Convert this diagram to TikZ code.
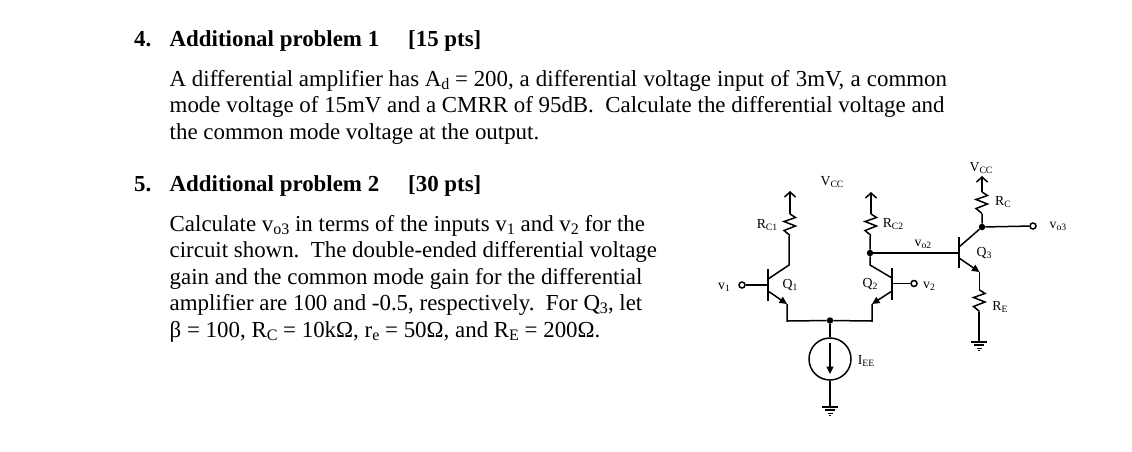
\documentclass[tikz,border=0pt]{standalone}
\usepackage{fontspec}
\setmainfont{Liberation Serif}
\usetikzlibrary{arrows.meta}
\newcommand{\smallsub}[1]{\raisebox{-0.16em}{\fontsize{0.7em}{1em}\selectfont #1}}
\newcommand{\resz}[2]{\draw[wire] (#1,#2) -- ++(5.5,3.5) -- ++(-11.5,4) -- ++(11.5,4.5) -- ++(-11.5,4.5) -- ++(6,5);}
\newcommand{\gnd}[2]{\draw[wire,line width=1.2pt] (#1-8,#2) -- (#1+8,#2); \draw[wire,line width=1.1pt] (#1-5,#2+3) -- (#1+5,#2+3); \draw[wire,line width=1pt] (#1-2.5,#2+6) -- (#1+2.5,#2+6); \draw[wire,line width=.8pt] (#1-.8,#2+8.5) -- (#1+.8,#2+8.5);}
\tikzset{
  x=1pt,y=-1pt,
  txt/.style={anchor=base west,inner sep=0pt,font=\fontsize{22.9}{26}\selectfont},
  head/.style={txt,font=\fontsize{22.9}{26}\selectfont\bfseries},
  lab/.style={anchor=center,inner sep=0pt,font=\fontsize{13.8}{15}\selectfont},
  wire/.style={line width=1.5pt,black},
  bar/.style={line width=1.6pt,black},
  supply/.style={wire,-{Straight Barb[length=5pt,width=11pt,line width=1.5pt]}},
  emit/.style={wire,-{Triangle[length=7.5pt,width=7pt]}},
  port/.style={circle,draw,line width=1.5pt,fill=white,minimum size=6pt,inner sep=0pt},
  junction/.style={circle,fill=black,minimum size=6.5pt,inner sep=0pt},
  source/.style={circle,draw,line width=1.5pt,minimum size=42pt,inner sep=0pt}
}
\begin{document}
\begin{tikzpicture}
\useasboundingbox (0,0) rectangle (1132,451);
% text
\node[head] (h4n) at (134,46) {4.};
\node[head] (h4) at (169.5,46) {Additional problem 1};
\node[head] (h4p) at (408,46) {[15 pts]};
\node[txt] (a1) at (169.5,86) {A differential amplifier has A\smallsub{d} = 200, a\hspace{0.5pt} differential\hspace{0.5pt} voltage\hspace{0.5pt} input\hspace{0.5pt} of\hspace{0.5pt} 3mV,\hspace{0.5pt} a\hspace{0.5pt} common};
\node[txt] (a2) at (169.5,112) {mode voltage of 15mV and a CMRR of 95dB.\ \ Calculate the differential voltage and};
\node[txt] (a3) at (169.5,139.5) {the common mode voltage at the output.};
\node[head] (h5n) at (134,191) {5.};
\node[head] (h5) at (169.5,191) {Additional problem 2};
\node[head] (h5p) at (408,191) {[30 pts]};
\node[txt] (b1) at (169.5,231) {Calculate v\smallsub{o3} in terms of the inputs v\smallsub{1} and v\smallsub{2} for the};
\node[txt] (b2) at (169.5,257) {circuit shown.\ \ The double-ended differential voltage};
\node[txt] (b3) at (169.5,284) {gain and the common mode gain for the differential};
\node[txt] (b4) at (169.5,310) {amplifier are 100 and -0.5, respectively.\ \ For Q\smallsub{3}, let};
\node[txt] (b5) at (169.5,337) {β = 100, R\smallsub{C} = 10kΩ, r\smallsub{e} = 50Ω, and R\smallsub{E} = 200Ω.};
% coordinates
\coordinate (t1) at (790,191); \coordinate (r1t) at (790,214); \coordinate (r1b) at (789,236);
\coordinate (c1) at (789,265); \coordinate (bc1) at (768,279); \coordinate (be1) at (768,291);
\coordinate (e1) at (787,304); \coordinate (e1b) at (787,321);
\coordinate (t2) at (871,192); \coordinate (r2t) at (871,214); \coordinate (r2b) at (870,236);
\coordinate (c2) at (870,265); \coordinate (bc2) at (892,278); \coordinate (be2) at (892,291);
\coordinate (e2) at (872,304); \coordinate (e2b) at (872,321);
\coordinate (t3) at (982,176); \coordinate (r3t) at (982,192); \coordinate (r3b) at (982,214);
\coordinate (bc3) at (959,247); \coordinate (be3) at (959,258); \coordinate (e3) at (979.5,272);
\coordinate (r4t) at (979.5,290); \coordinate (r4b) at (979,312); \coordinate (g3) at (979,342);
\coordinate (g4) at (830,407);
% nodes
\node[port] (v1p) at (742,285) {};
\node[port] (v2p) at (914,283.5) {};
\node[port] (o3p) at (1033,226) {};
\node[junction] (d2) at (870,253) {};
\node[junction] (d3) at (982,227) {};
\node[junction] (dm) at (830,320.5) {};
\node[source] (cs) at (830,359) {};
% transistor bars
\draw[bar] (768,269) -- (768,301);
\draw[bar] (892,268) -- (892,300);
\draw[bar] (959,237) -- (959,268);
% Q1 side
\draw[supply] (r1t) -- (t1);
\resz{790}{214}
\draw[wire] (r1b) -- (c1) -- (bc1);
\draw[wire] (v1p) -- (768,285);
\draw[emit] (be1) -- (e1);
\draw[wire] (e1) -- (e1b) -- (dm);
% Q2 side
\draw[supply] (r2t) -- (t2);
\resz{871}{214}
\draw[wire] (r2b) -- (d2) -- (c2) -- (bc2);
\draw[wire] (v2p) -- (892,283.5);
\draw[emit] (be2) -- (e2);
\draw[wire] (e2) -- (e2b) -- (dm);
% Q3
\draw[wire] (d2) -- (959,253);
\draw[supply] (r3t) -- (t3);
\resz{982}{192}
\draw[wire] (r3b) -- (d3) -- (bc3);
\draw[wire] (d3) -- (o3p);
\draw[emit] (be3) -- (e3);
\draw[wire] (e3) -- (r4t);
\resz{979.5}{290}
\draw[wire] (r4b) -- (g3);
\gnd{979}{342}
% source
\draw[wire] (dm) -- (cs.north);
\draw[wire] (cs.south) -- (g4);
\draw[wire,-{Triangle[length=7.5pt,width=7pt]}] (830,343) -- (830,374);
\gnd{830}{407}
% labels
\node[lab] (lvcc1) at (832,182) {V\smallsub{CC}};
\node[lab] (lvcc2) at (981,168) {V\smallsub{CC}};
\node[lab] (lrc1) at (767,225) {R\smallsub{C1}};
\node[lab] (lrc2) at (893,224) {R\smallsub{C2}};
\node[lab] (lrc) at (1003,202) {R\smallsub{C}};
\node[lab] (lvo2) at (923,244) {v\smallsub{o2}};
\node[lab] (lvo3) at (1058,226) {v\smallsub{o3}};
\node[lab] (lv1) at (724,287) {v\smallsub{1}};
\node[lab] (lv2) at (929,286) {v\smallsub{2}};
\node[lab] (lq1) at (790,285) {Q\smallsub{1}};
\node[lab] (lq2) at (870,284) {Q\smallsub{2}};
\node[lab] (lq3) at (984,253) {Q\smallsub{3}};
\node[lab] (lre) at (1000,307) {R\smallsub{E}};
\node[lab] (liee) at (866,361) {I\smallsub{EE}};
\end{tikzpicture}
\end{document}
